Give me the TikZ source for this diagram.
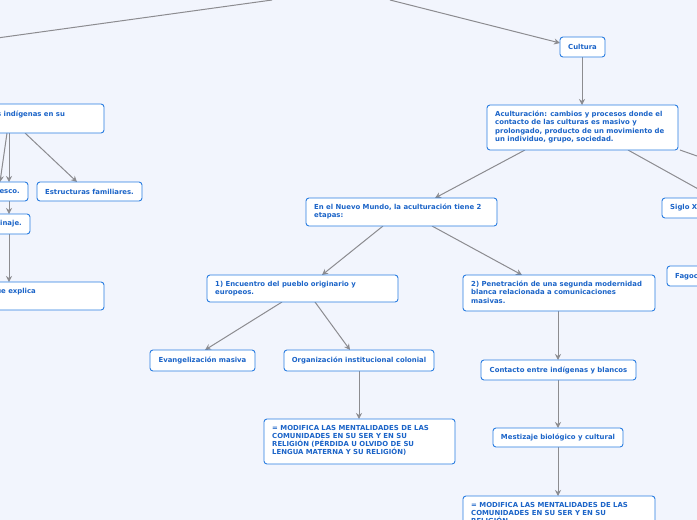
\documentclass[tikz,border=0pt]{standalone}
\usepackage{fontspec}
\setmainfont{DejaVu Sans}
\usetikzlibrary{arrows.meta}
\definecolor{bg}{HTML}{F2F5FD}
\definecolor{bd}{HTML}{2A7DE1}
\definecolor{tx}{HTML}{1B64C8}
\definecolor{ln}{HTML}{8C8C90}
\tikzset{
 box/.style={draw=bd,fill=white,rounded corners=3pt,line width=0.9pt},
 lbl/.style={text=tx,font=\bfseries\fontsize{6.9}{8.2}\selectfont,align=left,inner sep=0pt},
 con/.style={draw=ln,line width=1pt,-{Stealth[length=6pt,width=6pt]}},
 conp/.style={draw=ln,line width=1pt}
}
\begin{document}
\begin{tikzpicture}[x=1pt,y=-1pt]
\fill[bg] (0,0) rectangle (697,520);
\useasboundingbox (0,0) rectangle (697,520);
\clip (0,0) rectangle (697,520);
% connectors
\coordinate (leftn) at (-10,39);
\coordinate (acr) at (697,156);
\coordinate (sig) at (700,190);
\draw[conp] (272,0) -- (leftn);
\draw[con] (390,0) -- (560,43);
\draw[con] (582,57) -- (582,105);
\draw[con] (525,150) -- (435,198);
\draw[conp] (628,150) -- (sig);
\draw[conp] (680,150) -- (acr);
\draw[con] (383,226) -- (322,275);
\draw[con] (432,226) -- (522,275);
\draw[con] (282,302) -- (205,350);
\draw[con] (315,302) -- (350,350);
\draw[con] (359,371) -- (359,419);
\draw[con] (558,311) -- (558,360);
\draw[con] (558,380) -- (558,428);
\draw[con] (558,447) -- (558,496);
\draw[con] (7,133) -- (0,182);
\draw[con] (9,133) -- (9,182);
\draw[con] (9,201) -- (9,214);
\draw[con] (25,133) -- (77,182);
\draw[con] (9,234) -- (9,282);
% boxes
\draw[box] (560,37) rectangle (605,57); \node[lbl] (cult) at (582.5,47) {Cultura};
\draw[box] (487,105) rectangle (678,150); \node[lbl,anchor=north west] (acu) at (495,111) {Aculturación: cambios y procesos donde el\\contacto de las culturas es masivo y\\prolongado, producto de un movimiento de\\un individuo, grupo, sociedad.};
\draw[box] (306,198) rectangle (497,226); \node[lbl,anchor=north west] (nm) at (314,204) {En el Nuevo Mundo, la aculturación tiene 2\\etapas:};
\draw[box] (207,275) rectangle (398,302); \node[lbl,anchor=north west] (e1) at (215,281) {1) Encuentro del pueblo originario y\\europeos.};
\draw[box] (463,275) rectangle (655,311); \node[lbl,anchor=north west] (e2) at (471,281) {2) Penetración de una segunda modernidad\\blanca relacionada a comunicaciones\\masivas.};
\draw[box] (150,350) rectangle (255,371); \node[lbl] (ev) at (202.5,360.5) {Evangelización masiva};
\draw[box] (284,350) rectangle (434,371); \node[lbl] (org) at (359,360.5) {Organización institucional colonial};
\draw[box] (264,419) rectangle (455,464); \node[lbl,anchor=north west] (m1) at (272,425) {= MODIFICA LAS MENTALIDADES DE LAS\\COMUNIDADES EN SU SER Y EN SU\\RELIGIÓN (PÉRDIDA U OLVIDO DE SU\\LENGUA MATERNA Y SU RELIGIÓN)};
\draw[box] (481,360) rectangle (636,380); \node[lbl] (con) at (558.5,370) {Contacto entre indígenas y blancos};
\draw[box] (493,428) rectangle (623,447); \node[lbl] (mes) at (558,437.5) {Mestizaje biológico y cultural};
\draw[box] (463,496) rectangle (655,540); \node[lbl,anchor=north west] (m2) at (471,502) {= MODIFICA LAS MENTALIDADES DE LAS\\COMUNIDADES EN SU SER Y EN SU\\RELIGIÓN};
\draw[box] (662,198) rectangle (730,218); \node[lbl,anchor=west] (sx) at (670,208) {Siglo XX};
\draw[box] (667,266) rectangle (740,286); \node[lbl,anchor=west] (fag) at (675,276) {Fagocitación};
\draw[box] (-120,104) rectangle (104,133); \node[lbl,anchor=north west] (ind) at (-3,111) {s indígenas en su};
\draw[box] (-80,182) rectangle (28,201); \node[lbl,anchor=east] (par) at (20,191.5) {Parentesco.};
\draw[box] (37,182) rectangle (142,201); \node[lbl] (est) at (89.5,191.5) {Estructuras familiares.};
\draw[box] (-80,214) rectangle (30,234); \node[lbl,anchor=east] (lin) at (22,224) {Linaje.};
\draw[box] (-120,282) rectangle (104,310); \node[lbl,anchor=north east] (exp) at (36,288) {que explica};
\end{tikzpicture}
\end{document}
